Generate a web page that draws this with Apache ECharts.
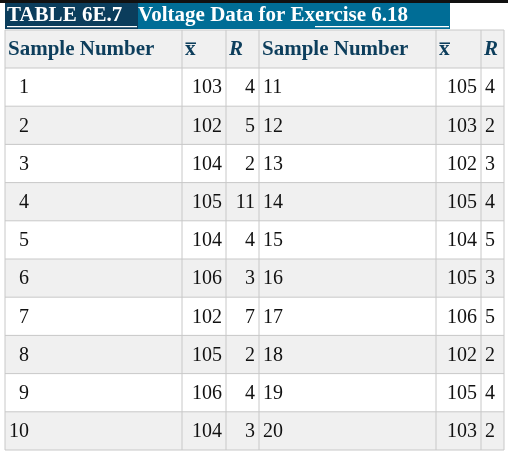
<!DOCTYPE html><html><head><meta charset="utf-8">
<script src="https://cdn.jsdelivr.net/npm/echarts@6/dist/echarts.min.js"></script>
<style>html,body{margin:0;padding:0;background:#fff}#c{width:508px;height:453px}</style></head>
<body><div id="c"></div><script>
const headers = ['Sample Number','x\u0305','R','Sample Number','x\u0305','R'];
const sampleA = [1,2,3,4,5,6,7,8,9,10];
const xbarA = [103,102,104,105,104,106,102,105,106,104];
const rA = [4,5,2,11,4,3,7,2,4,3];
const sampleB = [11,12,13,14,15,16,17,18,19,20];
const xbarB = [105,103,102,105,104,105,106,102,105,103];
const rB = [4,2,3,4,5,3,5,2,4,2];

const colX = [5,182,226,259,436,481,504];
const top0 = 30, headH = 38, rowH = 38.2;
const FF = 'Liberation Serif';
function ts(text,size,weight,fill,extra){return Object.assign({text:text,fontFamily:FF,fontSize:size,fontWeight:weight,fill:fill,verticalAlign:'middle'},extra||{});}
const els = [];
els.push({type:'rect',shape:{x:0,y:0,width:508,height:3},style:{fill:'#111'}});
els.push({type:'rect',shape:{x:5,y:3,width:445,height:26},style:{fill:'#006d96'}});
els.push({type:'rect',shape:{x:5,y:3,width:133,height:26},style:{fill:'#0b3d5c'}});
els.push({type:'text',x:7,y:16,style:ts('TABLE 6E.7',21,'bold','#fff')});
els.push({type:'text',x:138,y:16,style:ts('Voltage Data for Exercise 6.18',21,'bold','#fff')});
els.push({type:'rect',shape:{x:7,y:26,width:130,height:1.2},style:{fill:'#fff'}});
els.push({type:'rect',shape:{x:315,y:26,width:134,height:1.2},style:{fill:'#fff'}});
const nRows = sampleA.length;
const bottom = top0+headH+nRows*rowH;
els.push({type:'rect',shape:{x:colX[0],y:top0,width:colX[6]-colX[0],height:headH},style:{fill:'#f0f0f0'}});
for(let i=0;i<nRows;i++){
  const y=top0+headH+i*rowH;
  els.push({type:'rect',shape:{x:colX[0],y:y,width:colX[6]-colX[0],height:rowH},style:{fill:i%2?'#f0f0f0':'#fff'}});
}
const lc='#c8c8c8';
for(let i=0;i<=nRows+1;i++){
  const y=i===0?top0:top0+headH+(i-1)*rowH;
  els.push({type:'line',shape:{x1:colX[0],y1:y,x2:colX[6],y2:y},style:{stroke:lc,lineWidth:1}});
}
colX.forEach(x=>els.push({type:'line',shape:{x1:x,y1:top0,x2:x,y2:bottom},style:{stroke:lc,lineWidth:1}}));
headers.forEach((h,j)=>{
  els.push({type:'text',x:colX[j]+3,y:top0+headH/2+1,style:ts(h,21,'bold','#0d3e5c',h==='R'?{fontStyle:'italic'}:{})});
});
function cell(t,j,i,align){
  const y=top0+headH+i*rowH+rowH/2+1;
  const x= align==='right'?colX[j+1]-4:colX[j]+4;
  els.push({type:'text',x:x,y:y,style:ts(String(t),20,'normal','#111',{align:align})});
}
for(let i=0;i<nRows;i++){
  cell((sampleA[i]<10?'  ':'')+sampleA[i],0,i,'left');
  cell(xbarA[i],1,i,'right');
  cell(rA[i],2,i,'right');
  cell(sampleB[i],3,i,'left');
  cell(xbarB[i],4,i,'right');
  cell(rB[i],5,i,'left');
}
const chart=echarts.init(document.getElementById('c'));
chart.setOption({animation:false,graphic:{elements:els}});
</script></body></html>
